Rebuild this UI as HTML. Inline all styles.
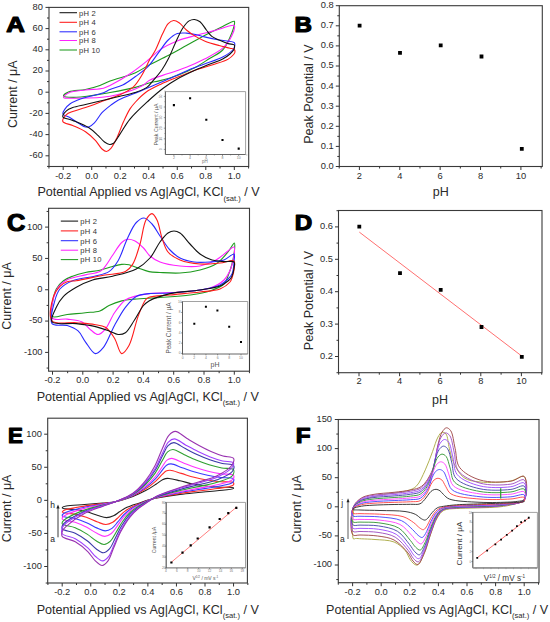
<!DOCTYPE html>
<html><head><meta charset="utf-8"><style>
html,body{margin:0;padding:0;background:#fff;}
svg{display:block;font-family:"Liberation Sans", sans-serif;}
</style></head><body>
<svg width="550" height="622" viewBox="0 0 550 622">
<rect width="550" height="622" fill="#fff"/>
<rect x="49.00" y="7.40" width="199.70" height="159.10" fill="none" stroke="#3a3a3a" stroke-width="1.1"/>
<path d="M63.20,166.50v3.5M91.72,166.50v3.5M120.24,166.50v3.5M148.76,166.50v3.5M177.28,166.50v3.5M205.80,166.50v3.5M234.32,166.50v3.5M48.94,166.50v2.0M77.46,166.50v2.0M105.98,166.50v2.0M134.50,166.50v2.0M163.02,166.50v2.0M191.54,166.50v2.0M220.06,166.50v2.0M248.58,166.50v2.0" stroke="#333" stroke-width="1" fill="none"/>
<text transform="translate(63.20,179.30) scale(1,1)" font-size="9.3" text-anchor="middle" fill="#2a2a2a">-0.2</text>
<text transform="translate(91.72,179.30) scale(1,1)" font-size="9.3" text-anchor="middle" fill="#2a2a2a">0.0</text>
<text transform="translate(120.24,179.30) scale(1,1)" font-size="9.3" text-anchor="middle" fill="#2a2a2a">0.2</text>
<text transform="translate(148.76,179.30) scale(1,1)" font-size="9.3" text-anchor="middle" fill="#2a2a2a">0.4</text>
<text transform="translate(177.28,179.30) scale(1,1)" font-size="9.3" text-anchor="middle" fill="#2a2a2a">0.6</text>
<text transform="translate(205.80,179.30) scale(1,1)" font-size="9.3" text-anchor="middle" fill="#2a2a2a">0.8</text>
<text transform="translate(234.32,179.30) scale(1,1)" font-size="9.3" text-anchor="middle" fill="#2a2a2a">1.0</text>
<path d="M49.00,155.80h-3.5M49.00,134.60h-3.5M49.00,113.40h-3.5M49.00,92.20h-3.5M49.00,71.00h-3.5M49.00,49.80h-3.5M49.00,28.60h-3.5M49.00,7.40h-3.5M49.00,166.40h-2.0M49.00,145.20h-2.0M49.00,124.00h-2.0M49.00,102.80h-2.0M49.00,81.60h-2.0M49.00,60.40h-2.0M49.00,39.20h-2.0M49.00,18.00h-2.0" stroke="#333" stroke-width="1" fill="none"/>
<text transform="translate(42.80,158.20) scale(1,1)" font-size="9.3" text-anchor="end" fill="#2a2a2a">-60</text>
<text transform="translate(42.80,137.00) scale(1,1)" font-size="9.3" text-anchor="end" fill="#2a2a2a">-40</text>
<text transform="translate(42.80,115.80) scale(1,1)" font-size="9.3" text-anchor="end" fill="#2a2a2a">-20</text>
<text transform="translate(42.80,94.60) scale(1,1)" font-size="9.3" text-anchor="end" fill="#2a2a2a">0</text>
<text transform="translate(42.80,73.40) scale(1,1)" font-size="9.3" text-anchor="end" fill="#2a2a2a">20</text>
<text transform="translate(42.80,52.20) scale(1,1)" font-size="9.3" text-anchor="end" fill="#2a2a2a">40</text>
<text transform="translate(42.80,31.00) scale(1,1)" font-size="9.3" text-anchor="end" fill="#2a2a2a">60</text>
<text transform="translate(42.80,9.80) scale(1,1)" font-size="9.3" text-anchor="end" fill="#2a2a2a">80</text>
<rect x="339.30" y="5.70" width="203.00" height="160.80" fill="none" stroke="#3a3a3a" stroke-width="1.1"/>
<path d="M359.40,166.50v3.5M399.78,166.50v3.5M440.16,166.50v3.5M480.54,166.50v3.5M520.92,166.50v3.5M339.21,166.50v2.0M379.59,166.50v2.0M419.97,166.50v2.0M460.35,166.50v2.0M500.73,166.50v2.0M541.11,166.50v2.0" stroke="#333" stroke-width="1" fill="none"/>
<text transform="translate(359.40,179.00) scale(1,1)" font-size="9.3" text-anchor="middle" fill="#2a2a2a">2</text>
<text transform="translate(399.78,179.00) scale(1,1)" font-size="9.3" text-anchor="middle" fill="#2a2a2a">4</text>
<text transform="translate(440.16,179.00) scale(1,1)" font-size="9.3" text-anchor="middle" fill="#2a2a2a">6</text>
<text transform="translate(480.54,179.00) scale(1,1)" font-size="9.3" text-anchor="middle" fill="#2a2a2a">8</text>
<text transform="translate(520.92,179.00) scale(1,1)" font-size="9.3" text-anchor="middle" fill="#2a2a2a">10</text>
<path d="M339.30,166.50h-3.5M339.30,146.40h-3.5M339.30,126.30h-3.5M339.30,106.20h-3.5M339.30,86.10h-3.5M339.30,66.00h-3.5M339.30,45.90h-3.5M339.30,25.80h-3.5M339.30,5.70h-3.5M339.30,156.45h-2.0M339.30,136.35h-2.0M339.30,116.25h-2.0M339.30,96.15h-2.0M339.30,76.05h-2.0M339.30,55.95h-2.0M339.30,35.85h-2.0M339.30,15.75h-2.0" stroke="#333" stroke-width="1" fill="none"/>
<text transform="translate(333.80,168.90) scale(1,1)" font-size="9.3" text-anchor="end" fill="#2a2a2a">0.0</text>
<text transform="translate(333.80,148.80) scale(1,1)" font-size="9.3" text-anchor="end" fill="#2a2a2a">0.1</text>
<text transform="translate(333.80,128.70) scale(1,1)" font-size="9.3" text-anchor="end" fill="#2a2a2a">0.2</text>
<text transform="translate(333.80,108.60) scale(1,1)" font-size="9.3" text-anchor="end" fill="#2a2a2a">0.3</text>
<text transform="translate(333.80,88.50) scale(1,1)" font-size="9.3" text-anchor="end" fill="#2a2a2a">0.4</text>
<text transform="translate(333.80,68.40) scale(1,1)" font-size="9.3" text-anchor="end" fill="#2a2a2a">0.5</text>
<text transform="translate(333.80,48.30) scale(1,1)" font-size="9.3" text-anchor="end" fill="#2a2a2a">0.6</text>
<text transform="translate(333.80,28.20) scale(1,1)" font-size="9.3" text-anchor="end" fill="#2a2a2a">0.7</text>
<text transform="translate(333.80,8.10) scale(1,1)" font-size="9.3" text-anchor="end" fill="#2a2a2a">0.8</text>
<rect x="48.60" y="208.30" width="200.90" height="162.90" fill="none" stroke="#3a3a3a" stroke-width="1.1"/>
<path d="M52.50,371.20v3.5M82.80,371.20v3.5M113.10,371.20v3.5M143.40,371.20v3.5M173.70,371.20v3.5M204.00,371.20v3.5M234.30,371.20v3.5M67.65,371.20v2.0M97.95,371.20v2.0M128.25,371.20v2.0M158.55,371.20v2.0M188.85,371.20v2.0M219.15,371.20v2.0M249.45,371.20v2.0" stroke="#333" stroke-width="1" fill="none"/>
<text transform="translate(52.50,383.30) scale(1,1)" font-size="9.3" text-anchor="middle" fill="#2a2a2a">-0.2</text>
<text transform="translate(82.80,383.30) scale(1,1)" font-size="9.3" text-anchor="middle" fill="#2a2a2a">0.0</text>
<text transform="translate(113.10,383.30) scale(1,1)" font-size="9.3" text-anchor="middle" fill="#2a2a2a">0.2</text>
<text transform="translate(143.40,383.30) scale(1,1)" font-size="9.3" text-anchor="middle" fill="#2a2a2a">0.4</text>
<text transform="translate(173.70,383.30) scale(1,1)" font-size="9.3" text-anchor="middle" fill="#2a2a2a">0.6</text>
<text transform="translate(204.00,383.30) scale(1,1)" font-size="9.3" text-anchor="middle" fill="#2a2a2a">0.8</text>
<text transform="translate(234.30,383.30) scale(1,1)" font-size="9.3" text-anchor="middle" fill="#2a2a2a">1.0</text>
<path d="M48.60,352.40h-3.5M48.60,321.07h-3.5M48.60,289.75h-3.5M48.60,258.43h-3.5M48.60,227.10h-3.5M48.60,368.06h-2.0M48.60,336.74h-2.0M48.60,305.41h-2.0M48.60,274.09h-2.0M48.60,242.76h-2.0M48.60,211.44h-2.0" stroke="#333" stroke-width="1" fill="none"/>
<text transform="translate(42.50,354.80) scale(1,1)" font-size="9.3" text-anchor="end" fill="#2a2a2a">-100</text>
<text transform="translate(42.50,323.47) scale(1,1)" font-size="9.3" text-anchor="end" fill="#2a2a2a">-50</text>
<text transform="translate(42.50,292.15) scale(1,1)" font-size="9.3" text-anchor="end" fill="#2a2a2a">0</text>
<text transform="translate(42.50,260.82) scale(1,1)" font-size="9.3" text-anchor="end" fill="#2a2a2a">50</text>
<text transform="translate(42.50,229.50) scale(1,1)" font-size="9.3" text-anchor="end" fill="#2a2a2a">100</text>
<rect x="338.50" y="210.50" width="203.50" height="162.20" fill="none" stroke="#3a3a3a" stroke-width="1.1"/>
<path d="M359.00,372.70v3.5M399.60,372.70v3.5M440.20,372.70v3.5M480.80,372.70v3.5M521.40,372.70v3.5M338.70,372.70v2.0M379.30,372.70v2.0M419.90,372.70v2.0M460.50,372.70v2.0M501.10,372.70v2.0M541.70,372.70v2.0" stroke="#333" stroke-width="1" fill="none"/>
<text transform="translate(359.00,384.20) scale(1,1)" font-size="9.3" text-anchor="middle" fill="#2a2a2a">2</text>
<text transform="translate(399.60,384.20) scale(1,1)" font-size="9.3" text-anchor="middle" fill="#2a2a2a">4</text>
<text transform="translate(440.20,384.20) scale(1,1)" font-size="9.3" text-anchor="middle" fill="#2a2a2a">6</text>
<text transform="translate(480.80,384.20) scale(1,1)" font-size="9.3" text-anchor="middle" fill="#2a2a2a">8</text>
<text transform="translate(521.40,384.20) scale(1,1)" font-size="9.3" text-anchor="middle" fill="#2a2a2a">10</text>
<path d="M338.50,356.50h-3.5M338.50,324.10h-3.5M338.50,291.70h-3.5M338.50,259.30h-3.5M338.50,226.90h-3.5M338.50,372.70h-2.0M338.50,340.30h-2.0M338.50,307.90h-2.0M338.50,275.50h-2.0M338.50,243.10h-2.0M338.50,210.70h-2.0" stroke="#333" stroke-width="1" fill="none"/>
<text transform="translate(333.00,358.90) scale(1,1)" font-size="9.3" text-anchor="end" fill="#2a2a2a">0.2</text>
<text transform="translate(333.00,326.50) scale(1,1)" font-size="9.3" text-anchor="end" fill="#2a2a2a">0.3</text>
<text transform="translate(333.00,294.10) scale(1,1)" font-size="9.3" text-anchor="end" fill="#2a2a2a">0.4</text>
<text transform="translate(333.00,261.70) scale(1,1)" font-size="9.3" text-anchor="end" fill="#2a2a2a">0.5</text>
<text transform="translate(333.00,229.30) scale(1,1)" font-size="9.3" text-anchor="end" fill="#2a2a2a">0.6</text>
<rect x="47.70" y="418.20" width="199.70" height="164.80" fill="none" stroke="#3a3a3a" stroke-width="1.1"/>
<path d="M62.20,583.00v3.5M90.76,583.00v3.5M119.32,583.00v3.5M147.88,583.00v3.5M176.44,583.00v3.5M205.00,583.00v3.5M233.56,583.00v3.5M47.92,583.00v2.0M76.48,583.00v2.0M105.04,583.00v2.0M133.60,583.00v2.0M162.16,583.00v2.0M190.72,583.00v2.0M219.28,583.00v2.0M247.84,583.00v2.0" stroke="#333" stroke-width="1" fill="none"/>
<text transform="translate(62.20,595.30) scale(1,1)" font-size="9.3" text-anchor="middle" fill="#2a2a2a">-0.2</text>
<text transform="translate(90.76,595.30) scale(1,1)" font-size="9.3" text-anchor="middle" fill="#2a2a2a">0.0</text>
<text transform="translate(119.32,595.30) scale(1,1)" font-size="9.3" text-anchor="middle" fill="#2a2a2a">0.2</text>
<text transform="translate(147.88,595.30) scale(1,1)" font-size="9.3" text-anchor="middle" fill="#2a2a2a">0.4</text>
<text transform="translate(176.44,595.30) scale(1,1)" font-size="9.3" text-anchor="middle" fill="#2a2a2a">0.6</text>
<text transform="translate(205.00,595.30) scale(1,1)" font-size="9.3" text-anchor="middle" fill="#2a2a2a">0.8</text>
<text transform="translate(233.56,595.30) scale(1,1)" font-size="9.3" text-anchor="middle" fill="#2a2a2a">1.0</text>
<path d="M47.70,566.50h-3.5M47.70,533.43h-3.5M47.70,500.35h-3.5M47.70,467.28h-3.5M47.70,434.20h-3.5M47.70,583.04h-2.0M47.70,549.96h-2.0M47.70,516.89h-2.0M47.70,483.81h-2.0M47.70,450.74h-2.0" stroke="#333" stroke-width="1" fill="none"/>
<text transform="translate(41.80,568.90) scale(1,1)" font-size="9.3" text-anchor="end" fill="#2a2a2a">-100</text>
<text transform="translate(41.80,535.83) scale(1,1)" font-size="9.3" text-anchor="end" fill="#2a2a2a">-50</text>
<text transform="translate(41.80,502.75) scale(1,1)" font-size="9.3" text-anchor="end" fill="#2a2a2a">0</text>
<text transform="translate(41.80,469.68) scale(1,1)" font-size="9.3" text-anchor="end" fill="#2a2a2a">50</text>
<text transform="translate(41.80,436.60) scale(1,1)" font-size="9.3" text-anchor="end" fill="#2a2a2a">100</text>
<rect x="338.30" y="419.50" width="200.70" height="163.20" fill="none" stroke="#3a3a3a" stroke-width="1.1"/>
<path d="M352.60,582.70v3.5M381.20,582.70v3.5M409.80,582.70v3.5M438.40,582.70v3.5M467.00,582.70v3.5M495.60,582.70v3.5M524.20,582.70v3.5M338.30,582.70v2.0M366.90,582.70v2.0M395.50,582.70v2.0M424.10,582.70v2.0M452.70,582.70v2.0M481.30,582.70v2.0M509.90,582.70v2.0M538.50,582.70v2.0" stroke="#333" stroke-width="1" fill="none"/>
<text transform="translate(352.60,595.30) scale(1,1)" font-size="9.3" text-anchor="middle" fill="#2a2a2a">-0.2</text>
<text transform="translate(381.20,595.30) scale(1,1)" font-size="9.3" text-anchor="middle" fill="#2a2a2a">0.0</text>
<text transform="translate(409.80,595.30) scale(1,1)" font-size="9.3" text-anchor="middle" fill="#2a2a2a">0.2</text>
<text transform="translate(438.40,595.30) scale(1,1)" font-size="9.3" text-anchor="middle" fill="#2a2a2a">0.4</text>
<text transform="translate(467.00,595.30) scale(1,1)" font-size="9.3" text-anchor="middle" fill="#2a2a2a">0.6</text>
<text transform="translate(495.60,595.30) scale(1,1)" font-size="9.3" text-anchor="middle" fill="#2a2a2a">0.8</text>
<text transform="translate(524.20,595.30) scale(1,1)" font-size="9.3" text-anchor="middle" fill="#2a2a2a">1.0</text>
<path d="M338.30,565.00h-3.5M338.30,535.90h-3.5M338.30,506.80h-3.5M338.30,477.70h-3.5M338.30,448.60h-3.5M338.30,419.50h-3.5M338.30,579.55h-2.0M338.30,550.45h-2.0M338.30,521.35h-2.0M338.30,492.25h-2.0M338.30,463.15h-2.0M338.30,434.05h-2.0" stroke="#333" stroke-width="1" fill="none"/>
<text transform="translate(332.00,567.40) scale(1,1)" font-size="9.3" text-anchor="end" fill="#2a2a2a">-100</text>
<text transform="translate(332.00,538.30) scale(1,1)" font-size="9.3" text-anchor="end" fill="#2a2a2a">-50</text>
<text transform="translate(332.00,509.20) scale(1,1)" font-size="9.3" text-anchor="end" fill="#2a2a2a">0</text>
<text transform="translate(332.00,480.10) scale(1,1)" font-size="9.3" text-anchor="end" fill="#2a2a2a">50</text>
<text transform="translate(332.00,451.00) scale(1,1)" font-size="9.3" text-anchor="end" fill="#2a2a2a">100</text>
<text transform="translate(332.00,421.90) scale(1,1)" font-size="9.3" text-anchor="end" fill="#2a2a2a">150</text>
<text transform="translate(6.3,31.8) scale(1.2,1)" x="0" y="0" font-size="21.4" font-weight="bold" fill="#000" stroke="#000" stroke-width="1.2" stroke-linejoin="round">A</text>
<text transform="translate(294.5,31.9) scale(1.13,1)" x="0" y="0" font-size="21.4" font-weight="bold" fill="#000" stroke="#000" stroke-width="1.2" stroke-linejoin="round">B</text>
<text transform="translate(7.0,230.9) scale(1.08,1)" x="0" y="0" font-size="23.5" font-weight="bold" fill="#000" stroke="#000" stroke-width="1.2" stroke-linejoin="round">C</text>
<text transform="translate(294.8,230.4) scale(1.13,1)" x="0" y="0" font-size="21.4" font-weight="bold" fill="#000" stroke="#000" stroke-width="1.2" stroke-linejoin="round">D</text>
<text transform="translate(8.0,442.9) scale(1.04,1)" x="0" y="0" font-size="21.4" font-weight="bold" fill="#000" stroke="#000" stroke-width="1.2" stroke-linejoin="round">E</text>
<text transform="translate(295.8,442.9) scale(1.13,1)" x="0" y="0" font-size="21.4" font-weight="bold" fill="#000" stroke="#000" stroke-width="1.2" stroke-linejoin="round">F</text>
<text transform="translate(16.6,94.2) rotate(-90)" x="0" y="0" font-size="12.5" text-anchor="middle" fill="#2a2a2a">Current / μA</text>
<text transform="translate(313.0,94.1) rotate(-90)" x="0" y="0" font-size="12.5" text-anchor="middle" fill="#2a2a2a">Peak Potential / V</text>
<text transform="translate(11.0,296.0) rotate(-90)" x="0" y="0" font-size="12.5" text-anchor="middle" fill="#2a2a2a">Current / μA</text>
<text transform="translate(313.0,300.5) rotate(-90)" x="0" y="0" font-size="12.5" text-anchor="middle" fill="#2a2a2a">Peak Potential / V</text>
<text transform="translate(11.2,508.4) rotate(-90)" x="0" y="0" font-size="12.5" text-anchor="middle" fill="#2a2a2a">Current / μA</text>
<text transform="translate(301.0,508.8) rotate(-90)" x="0" y="0" font-size="12.5" text-anchor="middle" fill="#2a2a2a">Current / μA</text>
<text x="37.4" y="196.4" font-size="12.6" fill="#2a2a2a">Potential Applied vs Ag|AgCl, KCl<tspan font-size="7.6" dy="4.3">(sat.)</tspan><tspan dy="-4.3"> / V</tspan></text>
<text x="440.7" y="196.0" font-size="12.5" text-anchor="middle" fill="#2a2a2a">pH</text>
<text x="36.7" y="400.6" font-size="12.6" fill="#2a2a2a">Potential Applied vs Ag|AgCl, KCl<tspan font-size="7.6" dy="4.3">(sat.)</tspan><tspan dy="-4.3"> / V</tspan></text>
<text x="440.0" y="404.2" font-size="12.5" text-anchor="middle" fill="#2a2a2a">pH</text>
<text x="36.7" y="613.8" font-size="12.6" fill="#2a2a2a">Potential Applied vs Ag|AgCl, KCl<tspan font-size="7.6" dy="4.3">(sat.)</tspan><tspan dy="-4.3"> / V</tspan></text>
<text x="326.0" y="613.8" font-size="12.6" fill="#2a2a2a">Potential Applied vs Ag|AgCl, KCl<tspan font-size="7.6" dy="4.3">(sat.)</tspan><tspan dy="-4.3"> / V</tspan></text>
<path d="M63.50,96.00C63.23,95.06 66.50,92.84 69.00,91.80C72.87,90.18 80.14,90.59 85.40,89.50C90.42,88.46 95.55,87.06 99.90,85.50C103.63,84.16 105.82,82.61 110.00,81.00C116.52,78.50 128.32,75.86 135.50,72.70C141.16,70.21 144.85,67.23 150.00,64.50C155.68,61.49 162.17,58.65 168.20,55.50C174.30,52.32 180.34,48.84 186.40,45.50C192.44,42.17 198.43,38.70 204.50,35.50C210.53,32.33 217.29,28.94 222.70,26.40C226.97,24.39 233.03,20.55 234.30,21.30C234.84,21.62 234.62,22.53 234.50,23.60C234.19,26.27 231.96,32.92 230.00,37.30C228.03,41.72 225.99,46.53 222.70,50.00C219.35,53.52 214.38,55.41 210.00,58.20C205.34,61.17 200.71,64.51 195.50,67.30C189.87,70.31 183.44,73.22 177.30,75.50C171.31,77.73 164.15,79.65 159.10,80.90C155.57,81.77 153.36,81.83 150.00,82.70C145.70,83.82 141.06,85.95 135.50,87.40C128.24,89.30 119.11,90.94 110.00,92.50C99.57,94.28 84.87,97.13 76.30,97.30C71.03,97.41 63.86,97.28 63.50,96.00Z" fill="none" stroke="#1e9a1e" stroke-width="1.1" stroke-linejoin="round"/>
<path d="M63.50,97.50C63.16,96.51 66.45,93.90 69.00,92.70C72.84,90.89 79.79,90.74 85.40,90.00C91.27,89.23 99.04,89.32 103.50,88.20C106.28,87.50 107.26,86.87 110.00,85.50C115.17,82.91 124.99,77.16 131.60,72.70C137.63,68.63 143.09,64.14 148.20,60.00C152.77,56.29 156.18,52.23 160.90,49.10C165.84,45.82 171.59,43.16 177.30,40.90C183.11,38.61 189.43,37.17 195.50,35.50C201.53,33.84 207.37,32.51 213.60,30.90C220.27,29.18 232.35,24.11 234.30,25.50C234.99,26.00 234.69,27.03 234.50,28.20C234.11,30.65 231.97,35.76 230.00,39.10C228.04,42.42 226.01,45.31 222.70,48.20C218.23,52.10 210.65,55.88 204.50,59.10C198.55,62.22 192.50,64.87 186.40,67.30C180.40,69.69 174.26,71.48 168.20,73.60C162.13,75.72 154.73,77.48 150.00,80.00C146.56,81.83 145.65,84.12 141.80,86.10C134.84,89.68 120.89,94.28 110.00,96.30C99.06,98.33 84.87,98.19 76.30,98.20C71.02,98.20 63.95,98.81 63.50,97.50Z" fill="none" stroke="#ff22ff" stroke-width="1.1" stroke-linejoin="round"/>
<path d="M62.80,113.80C62.34,112.42 64.01,110.46 65.10,108.90C66.36,107.10 68.20,105.24 70.20,103.80C72.38,102.23 75.23,101.06 77.80,100.00C80.30,98.97 82.31,98.42 85.40,97.50C90.13,96.10 99.04,94.37 103.50,92.70C106.27,91.66 107.44,90.58 110.00,89.50C113.50,88.03 118.58,87.06 122.70,85.00C127.10,82.80 131.31,79.55 135.50,76.50C139.81,73.36 144.36,70.36 148.20,66.40C152.27,62.20 155.61,56.40 159.10,51.80C162.25,47.64 164.91,43.15 168.20,40.00C171.04,37.28 174.10,34.71 177.30,33.60C180.20,32.60 183.37,32.95 186.40,33.10C189.44,33.25 192.49,33.87 195.50,34.50C198.53,35.13 201.13,36.09 204.50,36.90C208.77,37.92 214.18,39.04 219.10,40.00C224.11,40.98 232.51,40.91 234.30,42.70C235.07,43.47 234.93,44.48 234.80,45.50C234.62,46.85 233.96,48.50 232.70,50.00C230.73,52.34 226.68,54.88 222.70,57.00C217.67,59.68 210.56,61.68 204.50,64.00C198.46,66.31 192.40,68.41 186.40,70.90C180.30,73.43 172.91,77.01 168.20,79.10C165.22,80.42 163.91,80.99 160.90,82.30C156.04,84.41 148.50,87.70 141.80,90.50C134.43,93.58 124.04,97.05 118.50,100.00C115.16,101.78 113.48,103.15 110.90,105.10C107.99,107.31 104.70,109.81 102.00,112.70C99.18,115.71 96.86,120.44 94.40,122.90C92.66,124.64 90.96,126.07 89.30,126.70C88.01,127.18 86.88,127.30 85.50,127.00C83.59,126.59 81.38,124.85 79.10,123.50C76.35,121.87 73.06,119.49 70.20,117.80C67.65,116.30 63.37,115.52 62.80,113.80Z" fill="none" stroke="#2a2aff" stroke-width="1.1" stroke-linejoin="round"/>
<path d="M62.80,121.50C62.15,119.74 64.68,116.28 66.40,114.60C68.03,113.01 70.18,112.49 72.70,111.50C76.17,110.13 80.77,109.20 85.50,107.60C91.52,105.56 99.87,102.19 105.80,100.00C110.41,98.29 113.88,97.41 118.10,95.50C122.88,93.33 128.89,90.91 132.90,87.40C136.69,84.09 139.06,79.75 141.80,75.30C144.81,70.41 147.46,63.69 150.00,59.10C151.95,55.59 153.66,53.55 155.50,50.00C157.89,45.40 160.36,38.35 162.70,33.60C164.57,29.81 166.02,25.82 168.20,23.60C169.81,21.96 171.76,20.63 173.60,20.50C175.39,20.37 177.26,21.49 179.10,22.70C181.53,24.30 183.73,27.75 186.40,30.00C189.17,32.33 192.40,34.55 195.50,36.40C198.44,38.16 201.08,39.51 204.50,40.90C208.72,42.61 214.57,44.23 219.10,45.50C222.98,46.59 227.20,47.43 230.00,48.20C231.77,48.69 233.51,48.69 234.30,49.50C234.90,50.12 235.10,51.19 235.00,52.00C234.90,52.85 234.33,53.61 233.60,54.50C232.45,55.90 230.60,57.69 228.20,59.10C224.65,61.18 218.76,62.77 213.60,64.50C207.92,66.41 201.50,67.89 195.50,70.00C189.39,72.15 183.20,74.88 177.30,77.30C171.68,79.61 166.21,81.65 160.90,84.20C155.65,86.72 150.00,89.32 145.60,92.50C141.67,95.34 138.27,98.99 135.50,102.00C133.29,104.40 131.77,106.14 130.00,108.90C127.76,112.40 125.64,117.13 123.60,121.60C121.40,126.42 119.55,132.22 117.30,136.90C115.29,141.07 113.13,145.92 110.90,148.40C109.47,149.99 108.00,151.42 106.50,151.50C105.03,151.58 103.50,150.29 102.00,149.00C99.86,147.16 98.13,143.40 95.60,140.70C92.74,137.64 89.25,134.31 85.50,131.80C81.64,129.22 76.72,127.30 72.70,125.50C69.22,123.94 63.56,123.57 62.80,121.50Z" fill="none" stroke="#ff1a1a" stroke-width="1.1" stroke-linejoin="round"/>
<path d="M62.80,116.80C62.25,115.26 64.76,112.33 66.40,110.80C68.05,109.26 70.17,108.54 72.70,107.60C76.16,106.32 80.81,105.62 85.50,104.50C91.21,103.13 98.49,101.43 104.50,100.00C109.93,98.71 114.88,97.56 120.00,96.30C125.05,95.06 130.35,94.08 135.00,92.50C139.26,91.06 143.73,89.65 146.90,87.40C149.62,85.47 151.05,83.00 153.30,80.40C155.97,77.31 159.29,73.61 161.80,70.00C164.24,66.50 166.11,63.17 168.20,59.10C170.69,54.25 173.02,47.97 175.50,42.70C177.86,37.69 180.10,32.08 182.70,28.20C184.71,25.20 186.83,22.30 189.10,20.90C190.82,19.84 192.71,19.37 194.50,19.50C196.35,19.63 198.26,20.47 200.00,21.80C202.30,23.55 204.33,27.45 206.40,30.00C208.25,32.28 209.66,34.73 211.80,36.40C213.91,38.05 216.51,38.85 219.10,40.00C221.94,41.26 225.44,42.74 228.20,43.60C230.41,44.29 233.45,44.01 234.30,45.00C234.84,45.62 234.61,46.68 234.50,47.50C234.39,48.35 234.12,49.12 233.60,50.00C232.85,51.25 231.51,52.68 230.00,54.00C228.07,55.69 225.57,57.48 222.70,59.00C219.14,60.89 214.37,62.24 210.00,64.00C205.32,65.89 200.57,67.70 195.50,70.00C189.74,72.61 182.86,75.83 177.30,79.00C172.29,81.86 168.11,84.56 163.50,88.00C158.41,91.80 153.42,96.20 148.20,101.00C142.29,106.43 134.96,113.07 130.00,119.10C125.80,124.20 122.82,130.00 119.80,134.40C117.47,137.78 115.62,141.77 113.50,143.30C112.21,144.24 110.96,144.61 109.60,144.50C107.99,144.37 106.19,143.22 104.50,142.00C102.38,140.47 100.53,137.77 98.20,135.60C95.54,133.12 92.92,130.31 89.30,128.00C84.78,125.12 77.56,122.39 72.70,120.40C69.01,118.89 63.47,118.69 62.80,116.80Z" fill="none" stroke="#111" stroke-width="1.1" stroke-linejoin="round"/>
<path d="M59.5,12.7H77" stroke="#111" stroke-width="1.05"/>
<text x="79" y="15.5" font-size="7.6" fill="#333" letter-spacing="0.2">pH 2</text>
<path d="M59.5,22.3H77" stroke="#ff1a1a" stroke-width="1.05"/>
<text x="79" y="25.1" font-size="7.6" fill="#333" letter-spacing="0.2">pH 4</text>
<path d="M59.5,31.8H77" stroke="#2a2aff" stroke-width="1.05"/>
<text x="79" y="34.6" font-size="7.6" fill="#333" letter-spacing="0.2">pH 6</text>
<path d="M59.5,40.5H77" stroke="#ff22ff" stroke-width="1.05"/>
<text x="79" y="43.3" font-size="7.6" fill="#333" letter-spacing="0.2">pH 8</text>
<path d="M59.5,50.0H77" stroke="#1e9a1e" stroke-width="1.05"/>
<text x="79" y="52.8" font-size="7.6" fill="#333" letter-spacing="0.2">pH 10</text>
<path d="M165.4,154.5V91.6H245.6V154.5" fill="none" stroke="#8a8a8a" stroke-width="0.8"/>
<path d="M165.4,91.6V154.5H245.6" fill="none" stroke="#555" stroke-width="0.9"/>
<text transform="translate(162.20,149.40) rotate(-90)" font-size="3.5" text-anchor="middle" fill="#777">0</text>
<text transform="translate(162.20,138.80) rotate(-90)" font-size="3.5" text-anchor="middle" fill="#777">10</text>
<text transform="translate(162.20,128.20) rotate(-90)" font-size="3.5" text-anchor="middle" fill="#777">20</text>
<text transform="translate(162.20,117.60) rotate(-90)" font-size="3.5" text-anchor="middle" fill="#777">30</text>
<text transform="translate(162.20,107.00) rotate(-90)" font-size="3.5" text-anchor="middle" fill="#777">40</text>
<text transform="translate(162.20,96.40) rotate(-90)" font-size="3.5" text-anchor="middle" fill="#777">50</text>
<text x="173.90" y="159.10" font-size="3.5" text-anchor="middle" fill="#777">2</text>
<text x="190.10" y="159.10" font-size="3.5" text-anchor="middle" fill="#777">4</text>
<text x="206.30" y="159.10" font-size="3.5" text-anchor="middle" fill="#777">6</text>
<text x="222.50" y="159.10" font-size="3.5" text-anchor="middle" fill="#777">8</text>
<text x="238.70" y="159.10" font-size="3.5" text-anchor="middle" fill="#777">10</text>
<path d="M165.4,149.40h-1.6M165.4,138.80h-1.6M165.4,128.20h-1.6M165.4,117.60h-1.6M165.4,107.00h-1.6M165.4,96.40h-1.6M165.4,144.10h-0.9M165.4,133.50h-0.9M165.4,122.90h-0.9M165.4,112.30h-0.9M165.4,101.70h-0.9M165.4,91.10h-0.9M173.90,154.5v1.6M190.10,154.5v1.6M206.30,154.5v1.6M222.50,154.5v1.6M238.70,154.5v1.6M182.00,154.5v0.9M198.20,154.5v0.9M214.40,154.5v0.9M230.60,154.5v0.9M246.80,154.5v0.9" stroke="#555" stroke-width="0.6"/>
<text x="204.80" y="162.50" font-size="4.5" text-anchor="middle" fill="#777">pH</text>
<text transform="translate(157.60,124.50) rotate(-90)" font-size="5.3" text-anchor="middle" fill="#555">Peak Current / μA</text>
<path d="M172.85,104.05h2.1v2.1h-2.1zM189.05,97.15h2.1v2.1h-2.1zM205.25,118.75h2.1v2.1h-2.1zM221.45,138.95h2.1v2.1h-2.1zM237.65,147.55h2.1v2.1h-2.1z" fill="#000"/>
<path d="M357.70,23.70h3.8v3.8h-3.8zM398.10,51.00h3.8v3.8h-3.8zM438.80,43.40h3.8v3.8h-3.8zM479.60,54.60h3.8v3.8h-3.8zM519.90,147.00h3.8v3.8h-3.8z" fill="#000"/>
<path d="M359.3,232.1L521.8,356.1" stroke="#ff7070" stroke-width="1"/>
<path d="M357.40,224.70h3.8v3.8h-3.8zM398.10,271.30h3.8v3.8h-3.8zM438.80,288.00h3.8v3.8h-3.8zM479.60,325.10h3.8v3.8h-3.8zM519.90,354.90h3.8v3.8h-3.8z" fill="#000"/>
<path d="M52.00,316.40C49.66,314.24 51.84,306.46 52.60,301.80C53.32,297.35 54.33,292.63 56.30,289.00C58.09,285.71 60.71,282.85 63.50,280.70C66.18,278.63 69.24,277.50 72.60,276.20C76.44,274.71 80.97,273.49 85.40,272.50C90.05,271.46 95.26,271.24 99.90,270.20C104.31,269.21 108.71,267.52 112.60,266.50C115.87,265.65 118.82,264.67 121.70,264.40C124.25,264.16 126.47,264.20 129.00,264.70C131.91,265.27 134.92,266.90 138.10,268.00C141.56,269.20 145.31,270.85 149.00,271.60C152.62,272.33 155.79,272.28 160.00,272.50C165.67,272.80 173.35,273.41 180.00,273.00C186.68,272.59 193.78,271.61 200.00,270.00C205.71,268.52 211.33,267.01 216.00,264.00C220.66,261.00 224.75,255.84 228.00,252.00C230.62,248.90 233.44,242.71 234.40,243.00C235.11,243.21 234.77,246.56 234.60,249.00C234.33,252.89 233.18,259.32 232.00,264.00C230.93,268.27 229.47,272.45 228.00,276.00C226.76,278.99 226.28,281.72 224.00,284.00C220.99,287.01 215.21,289.21 210.00,291.00C204.05,293.04 197.37,293.96 190.00,295.00C181.04,296.26 169.60,296.80 160.00,297.50C151.16,298.15 141.54,298.39 134.50,299.10C129.49,299.61 125.90,299.85 121.70,300.90C117.40,301.97 112.81,303.70 109.00,305.50C105.63,307.09 103.43,309.69 99.90,310.90C95.75,312.32 90.51,312.13 85.40,312.70C79.68,313.34 72.99,313.85 67.20,314.50C61.90,315.09 54.40,318.61 52.00,316.40Z" fill="none" stroke="#1e9a1e" stroke-width="1.1" stroke-linejoin="round"/>
<path d="M52.00,318.20C49.13,314.91 52.15,303.77 53.50,298.20C54.53,293.92 55.81,290.37 58.10,287.30C60.38,284.24 63.39,281.77 67.20,279.80C72.02,277.31 79.66,276.32 85.40,274.90C90.49,273.63 96.40,273.51 99.90,271.60C102.42,270.22 103.56,268.43 105.40,266.20C107.79,263.30 110.03,259.06 112.60,255.30C115.42,251.18 118.76,245.18 121.70,242.50C123.57,240.79 125.17,239.65 127.20,239.30C129.40,238.93 132.08,239.57 134.50,240.70C137.52,242.11 140.86,245.36 143.50,248.00C145.99,250.49 147.36,253.71 150.00,256.00C152.80,258.43 155.93,260.43 160.00,262.00C165.38,264.08 173.30,265.34 180.00,266.00C186.63,266.66 193.80,267.12 200.00,266.00C205.73,264.96 211.22,262.62 216.00,260.00C220.48,257.54 224.66,253.36 228.00,251.00C230.32,249.36 232.97,246.47 234.00,247.00C235.01,247.52 234.47,251.29 234.20,254.00C233.82,257.89 232.72,263.64 231.00,268.00C229.30,272.29 227.30,276.73 224.00,280.00C220.45,283.52 215.78,286.05 210.00,288.00C202.08,290.67 190.10,291.07 180.00,292.00C169.77,292.94 157.37,292.58 149.00,293.60C143.23,294.30 138.72,295.17 134.50,296.40C131.06,297.40 128.32,297.92 125.40,300.00C121.58,302.72 117.76,308.01 114.50,312.70C111.05,317.66 108.71,325.33 105.40,329.10C103.10,331.72 100.57,334.40 98.10,334.50C95.70,334.60 93.28,331.86 90.80,330.00C87.83,327.78 85.39,323.62 81.70,321.80C77.65,319.80 72.11,319.70 67.20,319.10C62.21,318.49 54.50,321.06 52.00,318.20Z" fill="none" stroke="#ff22ff" stroke-width="1.1" stroke-linejoin="round"/>
<path d="M52.00,323.60C49.08,319.88 52.87,308.01 54.50,301.80C55.80,296.86 57.00,292.47 59.90,289.00C62.93,285.37 67.56,282.78 72.60,280.70C78.72,278.18 87.99,277.90 94.50,276.20C99.87,274.80 105.03,274.27 109.00,271.60C112.84,269.02 115.36,265.21 118.10,260.70C121.63,254.89 123.97,245.57 127.20,238.90C130.08,232.96 132.86,226.02 136.30,222.50C138.67,220.07 141.46,217.85 144.00,218.00C146.69,218.15 149.54,221.40 152.00,224.00C154.96,227.13 157.15,231.87 160.00,236.00C163.11,240.51 166.38,246.18 170.00,250.00C173.12,253.30 176.16,256.02 180.00,258.00C184.09,260.11 189.13,261.32 194.00,262.00C199.11,262.72 204.86,262.37 210.00,262.00C214.84,261.66 219.86,261.47 224.00,260.00C227.76,258.66 232.55,253.21 234.00,254.00C235.04,254.57 234.35,257.59 234.20,260.00C233.97,263.70 233.48,270.64 232.00,274.00C231.00,276.26 229.69,277.36 228.00,279.00C225.89,281.05 223.48,283.34 220.00,285.00C215.01,287.38 207.39,288.71 200.00,290.00C191.06,291.56 179.12,292.41 170.00,293.00C162.39,293.49 155.09,292.85 149.00,293.60C144.21,294.19 140.10,294.32 136.30,296.40C132.16,298.67 128.79,302.96 125.40,307.30C121.43,312.39 118.03,319.09 114.50,325.50C110.71,332.37 107.47,342.48 103.50,347.30C100.93,350.43 98.11,353.88 95.40,353.60C92.08,353.26 88.37,345.74 85.40,341.80C82.66,338.17 81.22,333.63 78.10,330.90C75.10,328.27 71.25,326.72 67.20,325.50C62.66,324.13 54.44,326.71 52.00,323.60Z" fill="none" stroke="#2a2aff" stroke-width="1.1" stroke-linejoin="round"/>
<path d="M52.00,320.90C48.18,316.52 51.49,302.58 53.50,296.40C54.90,292.10 57.38,288.90 59.90,286.40C62.05,284.26 64.52,282.75 67.20,281.80C69.97,280.82 72.47,281.31 76.30,280.70C82.96,279.64 94.91,276.88 103.50,275.30C111.18,273.89 120.34,274.21 125.40,271.60C128.83,269.83 130.49,267.70 132.60,264.40C135.65,259.62 137.74,251.46 139.90,244.40C142.25,236.73 143.12,225.29 146.00,220.00C147.70,216.88 150.14,213.52 152.00,213.60C153.79,213.68 155.56,217.14 157.00,220.00C159.19,224.33 160.05,232.44 162.00,238.00C163.77,243.02 164.93,248.31 168.00,252.00C170.99,255.59 175.27,258.04 180.00,260.00C185.63,262.33 193.30,263.51 200.00,264.00C206.64,264.49 213.94,263.58 220.00,263.00C225.09,262.51 231.99,259.33 234.00,261.00C235.42,262.18 234.53,265.48 234.30,268.00C234.02,271.05 232.91,275.46 232.00,278.00C231.40,279.68 231.18,280.64 230.00,282.00C228.06,284.25 224.14,287.35 220.00,289.00C214.67,291.13 207.35,291.08 200.00,292.00C191.02,293.12 179.11,294.05 170.00,295.00C162.38,295.80 152.99,295.72 149.00,297.30C147.16,298.03 146.61,298.49 145.40,300.00C142.99,303.02 140.49,310.08 138.10,316.40C134.99,324.64 132.68,339.04 129.00,345.50C126.80,349.36 123.91,353.93 121.70,353.60C118.95,353.19 117.38,342.73 114.50,338.20C111.87,334.06 108.99,329.57 105.40,327.30C102.21,325.28 98.63,325.23 94.50,324.50C89.24,323.57 82.81,323.26 76.30,322.70C68.79,322.05 55.81,325.26 52.00,320.90Z" fill="none" stroke="#ff1a1a" stroke-width="1.1" stroke-linejoin="round"/>
<path d="M52.00,321.80C49.99,318.89 54.27,311.65 56.30,307.30C58.19,303.25 60.39,299.62 63.50,296.40C66.91,292.87 71.63,289.97 76.30,287.30C81.28,284.45 86.77,281.83 92.60,280.00C98.82,278.05 105.70,277.91 112.60,276.20C120.22,274.31 129.74,272.36 136.30,268.90C141.81,265.99 146.10,262.37 150.00,258.00C154.05,253.46 156.66,246.46 160.00,242.00C162.67,238.44 165.28,234.79 168.00,233.00C169.97,231.70 172.00,231.00 174.00,231.00C176.00,231.00 177.93,231.65 180.00,233.00C183.17,235.07 186.62,240.46 190.00,244.00C193.29,247.45 196.27,251.32 200.00,254.00C203.63,256.62 207.89,258.74 212.00,260.00C215.90,261.20 220.17,261.27 224.00,261.60C227.48,261.90 232.56,260.56 234.00,262.00C235.02,263.02 234.44,265.03 234.20,267.00C233.84,269.98 232.43,275.59 231.00,278.00C230.13,279.47 229.32,279.95 228.00,281.00C226.04,282.56 223.42,284.64 220.00,286.00C214.97,288.00 207.37,288.82 200.00,290.00C191.04,291.43 179.01,291.52 170.00,293.60C162.27,295.39 153.59,298.30 149.00,300.90C146.39,302.38 145.38,303.34 143.50,305.50C140.60,308.84 137.59,315.38 134.50,320.00C131.55,324.42 128.71,330.46 125.40,332.70C123.10,334.26 120.64,334.67 118.10,334.50C115.20,334.30 112.41,332.10 109.00,330.90C104.75,329.40 99.65,327.59 94.50,326.40C88.82,325.09 82.82,324.34 76.30,323.60C68.80,322.75 54.55,325.50 52.00,321.80Z" fill="none" stroke="#111" stroke-width="1.1" stroke-linejoin="round"/>
<path d="M60.8,221.1H78.1" stroke="#111" stroke-width="1.05"/>
<text x="80.3" y="223.9" font-size="7.6" fill="#333" letter-spacing="0.2">pH 2</text>
<path d="M60.8,230.9H78.1" stroke="#ff1a1a" stroke-width="1.05"/>
<text x="80.3" y="233.70000000000002" font-size="7.6" fill="#333" letter-spacing="0.2">pH 4</text>
<path d="M60.8,240.7H78.1" stroke="#2a2aff" stroke-width="1.05"/>
<text x="80.3" y="243.5" font-size="7.6" fill="#333" letter-spacing="0.2">pH 6</text>
<path d="M60.8,250.2H78.1" stroke="#ff22ff" stroke-width="1.05"/>
<text x="80.3" y="253.0" font-size="7.6" fill="#333" letter-spacing="0.2">pH 8</text>
<path d="M60.8,259.6H78.1" stroke="#1e9a1e" stroke-width="1.05"/>
<text x="80.3" y="262.40000000000003" font-size="7.6" fill="#333" letter-spacing="0.2">pH 10</text>
<rect x="182.5" y="301.5" width="65.19999999999999" height="52.5" fill="#fff"/>
<path d="M182.5,354.0V301.5H247.7V354.0" fill="none" stroke="#8a8a8a" stroke-width="0.8"/>
<path d="M182.5,301.5V354.0H247.7" fill="none" stroke="#555" stroke-width="0.9"/>
<text x="179.70" y="354.40" font-size="3.2" text-anchor="middle" fill="#777">0</text>
<text x="179.70" y="344.16" font-size="3.2" text-anchor="middle" fill="#777">2</text>
<text x="179.70" y="333.92" font-size="3.2" text-anchor="middle" fill="#777">4</text>
<text x="179.70" y="323.68" font-size="3.2" text-anchor="middle" fill="#777">6</text>
<text x="179.70" y="313.44" font-size="3.2" text-anchor="middle" fill="#777">8</text>
<text x="179.70" y="303.20" font-size="3.2" text-anchor="middle" fill="#777">10</text>
<text x="182.60" y="358.60" font-size="3.4" text-anchor="middle" fill="#777">0</text>
<text x="194.28" y="358.60" font-size="3.4" text-anchor="middle" fill="#777">2</text>
<text x="205.96" y="358.60" font-size="3.4" text-anchor="middle" fill="#777">4</text>
<text x="217.64" y="358.60" font-size="3.4" text-anchor="middle" fill="#777">6</text>
<text x="229.32" y="358.60" font-size="3.4" text-anchor="middle" fill="#777">8</text>
<text x="241.00" y="358.60" font-size="3.4" text-anchor="middle" fill="#777">10</text>
<path d="M182.5,353.40h-1.4M182.5,343.16h-1.4M182.5,332.92h-1.4M182.5,322.68h-1.4M182.5,312.44h-1.4M182.5,302.20h-1.4M182.60,354.0v1.4M194.28,354.0v1.4M205.96,354.0v1.4M217.64,354.0v1.4M229.32,354.0v1.4M241.00,354.0v1.4" stroke="#555" stroke-width="0.6"/>
<text x="215.00" y="366.50" font-size="7" text-anchor="middle" fill="#555">pH</text>
<text transform="translate(171.00,328.00) rotate(-90)" font-size="6.4" text-anchor="middle" fill="#555">Peak Current / μA</text>
<path d="M193.30,322.80h2.0v2.0h-2.0zM204.90,305.80h2.0v2.0h-2.0zM216.40,309.40h2.0v2.0h-2.0zM228.20,325.80h2.0v2.0h-2.0zM240.00,341.10h2.0v2.0h-2.0z" fill="#000"/>
<path d="M62.50,507.30C62.90,506.74 64.47,506.37 66.20,506.00C69.94,505.20 78.34,505.00 84.40,504.50C90.44,504.00 96.99,503.49 102.50,503.00C107.14,502.59 110.74,502.70 115.30,501.80C120.75,500.72 127.56,498.42 132.90,496.40C137.57,494.63 141.73,492.72 145.70,490.60C149.39,488.63 152.98,486.18 156.00,484.20C158.44,482.60 160.70,480.64 162.50,479.70C163.65,479.11 164.44,478.80 165.50,478.60C166.63,478.38 167.59,478.36 169.10,478.50C171.76,478.74 176.21,479.93 180.00,480.80C184.15,481.75 188.65,483.13 193.00,484.00C197.31,484.86 201.58,485.47 206.00,486.00C210.57,486.55 215.39,486.92 220.00,487.20C224.49,487.48 232.32,486.80 233.30,487.70C233.54,487.92 233.59,488.25 233.40,488.50C232.54,489.62 222.76,490.05 217.10,490.70C210.99,491.40 204.27,491.87 198.00,492.50C191.91,493.11 186.36,493.57 180.00,494.40C172.79,495.34 162.89,496.89 157.00,498.00C153.30,498.70 150.98,499.15 148.00,500.00C144.95,500.87 141.83,502.20 138.90,503.20C136.18,504.13 133.44,504.91 131.00,505.80C128.85,506.58 126.91,507.21 125.00,508.20C123.07,509.20 121.37,510.56 119.50,511.80C117.54,513.09 115.67,514.83 113.50,515.80C111.33,516.77 108.95,517.59 106.50,517.60C103.81,517.61 101.06,516.39 98.00,515.50C94.32,514.44 89.95,512.51 86.00,511.50C82.29,510.55 78.79,510.04 75.00,509.50C70.98,508.93 63.38,509.18 62.50,508.20C62.26,507.94 62.31,507.57 62.50,507.30Z" fill="none" stroke="#222" stroke-width="1.1" stroke-linejoin="round"/>
<path d="M62.50,511.43C62.90,510.81 64.44,510.17 66.20,509.57C69.92,508.31 78.33,507.09 84.40,506.09C90.43,505.10 96.99,504.36 102.50,503.59C107.14,502.95 110.75,502.88 115.30,501.80C120.76,500.51 127.59,498.18 132.90,495.84C137.61,493.77 141.78,491.36 145.70,488.80C149.36,486.40 152.83,483.66 155.77,481.05C158.33,478.78 160.58,476.01 162.50,474.19C163.86,472.90 164.76,471.67 166.09,471.02C167.34,470.42 168.50,470.18 170.19,470.26C172.98,470.39 177.41,472.28 181.22,473.40C185.34,474.60 189.75,476.16 194.05,477.26C198.30,478.35 202.52,479.22 206.88,479.96C211.34,480.72 216.04,481.31 220.53,481.74C224.86,482.16 232.09,481.14 233.34,482.56C233.90,483.19 233.83,484.41 233.18,485.16C231.57,487.04 222.71,487.61 217.10,488.55C211.04,489.58 204.33,490.17 198.07,490.99C191.97,491.79 186.37,492.40 180.00,493.42C172.78,494.58 162.88,496.34 157.00,497.71C153.28,498.58 150.98,499.24 148.00,500.26C144.95,501.30 141.83,502.69 138.90,503.92C136.12,505.09 133.32,506.12 130.83,507.46C128.50,508.70 126.40,510.02 124.38,511.60C122.33,513.21 120.58,515.26 118.64,517.04C116.69,518.82 114.90,521.05 112.71,522.29C110.62,523.48 108.27,524.47 105.88,524.50C103.26,524.53 100.55,523.09 97.61,522.04C94.10,520.79 90.10,518.63 86.29,517.30C82.57,516.01 78.92,514.98 75.04,514.15C70.99,513.28 63.27,513.25 62.46,512.26C62.25,512.01 62.32,511.71 62.50,511.43Z" fill="none" stroke="#ff2a2a" stroke-width="1.1" stroke-linejoin="round"/>
<path d="M62.50,514.62C62.98,513.81 64.42,513.10 66.20,512.32C69.90,510.71 78.31,508.70 84.40,507.32C90.41,505.96 96.99,505.04 102.50,504.05C107.13,503.23 110.75,503.02 115.30,501.80C120.76,500.34 127.62,497.98 132.90,495.41C137.64,493.10 141.82,490.31 145.70,487.41C149.34,484.69 152.71,481.67 155.60,478.62C158.24,475.83 160.49,472.38 162.50,469.94C164.01,468.10 165.00,466.18 166.55,465.18C167.89,464.32 169.21,463.85 171.02,463.90C173.91,463.97 178.34,466.37 182.17,467.69C186.26,469.09 190.60,470.79 194.86,472.06C199.06,473.32 203.24,474.40 207.55,475.31C211.93,476.23 216.54,476.98 220.93,477.53C225.14,478.06 232.09,477.03 233.36,478.59C234.04,479.41 233.84,481.04 232.98,482.05C231.13,484.25 222.67,485.33 217.10,486.56C211.10,487.88 204.39,488.58 198.14,489.58C192.03,490.56 186.39,491.31 180.00,492.51C172.77,493.87 162.86,495.82 157.00,497.44C153.27,498.47 150.98,499.33 148.00,500.50C144.95,501.70 141.83,503.15 138.90,504.59C136.06,505.99 133.20,507.28 130.67,509.00C128.18,510.68 125.93,512.63 123.80,514.76C121.64,516.93 119.84,519.62 117.83,521.92C115.89,524.14 114.19,526.82 111.97,528.34C109.96,529.71 107.64,530.88 105.30,530.92C102.75,530.96 100.08,529.32 97.25,528.12C93.89,526.70 90.23,524.30 86.56,522.70C82.84,521.09 79.05,519.58 75.08,518.48C71.01,517.35 63.41,517.31 62.42,516.04C62.09,515.62 62.23,515.08 62.50,514.62Z" fill="none" stroke="#3a3aff" stroke-width="1.1" stroke-linejoin="round"/>
<path d="M62.50,517.38C63.02,516.43 64.40,515.64 66.20,514.71C69.89,512.79 78.29,510.10 84.40,508.39C90.39,506.70 96.99,505.62 102.50,504.45C107.13,503.47 110.75,503.14 115.30,501.80C120.76,500.20 127.65,497.81 132.90,495.03C137.67,492.52 141.85,489.40 145.70,486.20C149.32,483.20 152.60,479.93 155.44,476.51C158.16,473.26 160.40,469.22 162.50,466.25C164.14,463.93 165.21,461.42 166.95,460.11C168.38,459.04 169.82,458.36 171.75,458.39C174.71,458.42 179.14,461.25 182.99,462.74C187.06,464.31 191.34,466.13 195.56,467.56C199.73,468.97 203.87,470.22 208.13,471.27C212.44,472.33 216.97,473.23 221.28,473.88C225.38,474.50 232.09,473.49 233.39,475.15C234.15,476.13 233.83,478.13 232.81,479.38C230.80,481.84 222.64,483.37 217.10,484.84C211.15,486.43 204.44,487.22 198.20,488.37C192.07,489.51 186.40,490.38 180.00,491.73C172.76,493.26 162.85,495.39 157.00,497.21C153.26,498.38 150.98,499.40 148.00,500.71C144.95,502.05 141.83,503.55 138.90,505.16C136.01,506.76 133.11,508.29 130.53,510.32C127.90,512.38 125.52,514.88 123.31,517.47C121.05,520.13 119.20,523.36 117.14,526.11C115.21,528.69 113.57,531.78 111.34,533.52C109.39,535.04 107.10,536.37 104.81,536.42C102.32,536.48 99.67,534.68 96.94,533.34C93.71,531.77 90.35,529.17 86.79,527.34C83.09,525.44 79.16,523.53 75.12,522.19C71.03,520.84 63.48,520.75 62.38,519.28C61.96,518.72 62.16,517.99 62.50,517.38Z" fill="none" stroke="#ff33ff" stroke-width="1.1" stroke-linejoin="round"/>
<path d="M62.50,521.84C63.05,520.74 64.38,519.76 66.20,518.57C69.87,516.16 78.25,512.37 84.40,510.11C90.35,507.92 96.98,506.57 102.50,505.09C107.13,503.86 110.75,503.33 115.30,501.80C120.76,499.96 127.69,497.51 132.90,494.43C137.73,491.57 141.91,487.92 145.70,484.26C149.29,480.79 152.40,477.10 155.20,473.11C158.01,469.11 160.26,464.10 162.50,460.30C164.33,457.20 165.56,453.74 167.59,451.93C169.17,450.53 170.81,449.48 172.92,449.49C176.00,449.49 180.43,452.98 184.31,454.74C188.35,456.58 192.54,458.61 196.70,460.28C200.79,461.94 204.89,463.47 209.08,464.75C213.27,466.03 217.67,467.16 221.85,467.98C225.78,468.75 232.05,467.76 233.42,469.59C234.40,470.89 233.87,473.73 232.56,475.46C230.33,478.39 222.60,480.50 217.10,482.33C211.22,484.28 204.51,485.21 198.28,486.60C192.15,487.96 186.42,489.00 180.00,490.58C172.75,492.36 162.84,494.75 157.00,496.88C153.24,498.24 150.98,499.51 148.00,501.01C144.95,502.55 141.83,504.15 138.90,506.01C135.94,507.89 132.97,509.79 130.33,512.26C127.51,514.89 124.93,518.17 122.58,521.46C120.19,524.83 118.24,528.85 116.13,532.26C114.19,535.38 112.67,539.06 110.41,541.15C108.54,542.86 106.31,544.46 104.08,544.52C101.68,544.59 99.07,542.54 96.48,541.01C93.44,539.22 90.51,536.30 87.12,534.15C83.45,531.82 79.32,529.34 75.17,527.65C71.06,525.98 63.47,525.68 62.33,524.05C61.87,523.38 62.13,522.57 62.50,521.84Z" fill="none" stroke="#2f9f2f" stroke-width="1.1" stroke-linejoin="round"/>
<path d="M62.50,525.26C63.11,523.90 64.36,522.92 66.20,521.52C69.86,518.75 78.21,514.11 84.40,511.43C90.32,508.86 96.98,507.29 102.50,505.59C107.13,504.16 110.75,503.48 115.30,501.80C120.76,499.79 127.72,497.28 132.90,493.96C137.77,490.85 141.95,486.78 145.70,482.76C149.27,478.94 152.25,474.91 155.01,470.50C157.88,465.93 160.15,460.16 162.50,455.73C164.46,452.03 165.83,447.85 168.09,445.65C169.78,444.00 171.58,442.66 173.82,442.66C176.99,442.65 181.42,446.63 185.33,448.61C189.34,450.64 193.45,452.83 197.57,454.70C201.61,456.54 205.67,458.28 209.81,459.75C213.91,461.20 218.21,462.51 222.28,463.46C226.08,464.34 232.16,463.48 233.45,465.33C234.41,466.70 233.69,469.59 232.30,471.49C230.00,474.66 222.57,477.59 217.10,479.78C211.31,482.09 204.59,483.19 198.37,484.80C192.22,486.40 186.44,487.61 180.00,489.42C172.74,491.45 162.82,494.11 157.00,496.53C153.22,498.11 150.98,499.62 148.00,501.32C144.95,503.06 141.83,504.76 138.90,506.87C135.86,509.05 132.84,511.33 130.12,514.23C127.11,517.44 124.33,521.51 121.85,525.50C119.31,529.58 117.27,534.41 115.10,538.48C113.16,542.14 111.76,546.42 109.47,548.86C107.68,550.77 105.50,552.64 103.35,552.71C101.04,552.79 98.45,550.49 96.02,548.78C93.16,546.76 90.69,543.50 87.47,541.04C83.85,538.27 79.49,535.22 75.22,533.18C71.08,531.20 63.65,530.90 62.28,528.87C61.57,527.82 62.00,526.39 62.50,525.26Z" fill="none" stroke="#3a3aa8" stroke-width="1.1" stroke-linejoin="round"/>
<path d="M62.50,527.17C63.18,525.53 64.35,524.68 66.20,523.18C69.86,520.20 78.18,515.09 84.40,512.16C90.30,509.39 96.98,507.70 102.50,505.86C107.12,504.32 110.75,503.56 115.30,501.80C120.76,499.69 127.73,497.15 132.90,493.71C137.80,490.45 141.97,486.15 145.70,481.93C149.26,477.90 152.16,473.69 154.91,469.04C157.80,464.15 160.08,457.96 162.50,453.18C164.54,449.14 165.99,444.56 168.36,442.14C170.12,440.36 172.01,438.85 174.32,438.84C177.54,438.83 181.98,443.08 185.89,445.18C189.89,447.33 193.97,449.61 198.05,451.58C202.07,453.53 206.10,455.39 210.21,456.95C214.26,458.50 218.51,459.92 222.53,460.93C226.25,461.87 232.46,461.28 233.47,462.95C234.13,464.04 233.24,465.95 232.04,467.53C229.74,470.57 222.55,474.68 217.10,477.23C211.40,479.90 204.66,481.16 198.45,483.01C192.30,484.84 186.46,486.22 180.00,488.25C172.73,490.54 162.79,493.48 157.00,496.19C153.19,497.98 150.99,499.73 148.00,501.63C144.95,503.57 141.83,505.38 138.90,507.72C135.79,510.20 132.72,512.86 129.92,516.20C126.73,519.99 123.73,524.84 121.11,529.53C118.44,534.33 116.29,539.96 114.08,544.71C112.12,548.90 110.83,553.77 108.53,556.57C106.81,558.66 104.70,560.82 102.61,560.90C100.39,560.99 97.83,558.44 95.56,556.54C92.87,554.30 90.86,550.70 87.81,547.93C84.26,544.72 79.66,541.10 75.27,538.70C71.11,536.42 63.92,536.26 62.23,533.69C61.08,531.94 61.75,528.97 62.50,527.17Z" fill="none" stroke="#a040ff" stroke-width="1.1" stroke-linejoin="round"/>
<path d="M62.50,530.90C63.16,529.20 64.33,528.13 66.20,526.40C69.85,523.02 78.14,516.99 84.40,513.60C90.26,510.43 96.97,508.49 102.50,506.40C107.12,504.65 110.75,503.72 115.30,501.80C120.76,499.49 127.77,496.88 132.90,493.20C137.85,489.66 142.02,484.91 145.70,480.30C149.24,475.88 151.99,471.30 154.70,466.20C157.64,460.67 159.96,453.67 162.50,448.20C164.68,443.51 166.29,438.15 168.90,435.30C170.78,433.24 172.85,431.40 175.30,431.40C178.62,431.40 183.07,436.16 187.00,438.50C190.96,440.86 194.96,443.32 199.00,445.50C202.97,447.65 206.95,449.74 211.00,451.50C214.96,453.22 219.09,454.85 223.00,456.00C226.58,457.06 232.28,456.38 233.50,458.30C234.49,459.87 233.43,463.02 231.90,465.30C229.47,468.93 222.54,473.04 217.10,475.80C211.45,478.67 204.71,480.03 198.50,482.00C192.34,483.96 186.47,485.44 180.00,487.60C172.72,490.03 162.78,493.13 157.00,496.00C153.18,497.90 150.99,499.79 148.00,501.80C144.95,503.85 141.83,505.74 138.90,508.20C135.75,510.85 132.65,513.73 129.80,517.30C126.52,521.42 123.39,526.71 120.70,531.80C117.94,537.00 115.73,543.08 113.50,548.20C111.54,552.70 110.30,557.90 108.00,560.90C106.32,563.09 104.25,565.42 102.20,565.50C100.03,565.59 97.49,562.90 95.30,560.90C92.71,558.53 90.97,554.74 88.00,551.80C84.51,548.34 79.76,544.40 75.30,541.80C71.13,539.36 63.78,538.90 62.20,536.40C61.22,534.84 61.86,532.55 62.50,530.90Z" fill="none" stroke="#9933b0" stroke-width="1.1" stroke-linejoin="round"/>
<path d="M58,537.3V507" stroke="#222" stroke-width="0.9"/>
<path d="M58,504.5l-1.6,4h3.2z" fill="#222"/>
<text x="52.6" y="508" font-size="8.5" text-anchor="middle" fill="#222">h</text>
<text x="52.6" y="541.5" font-size="8.5" text-anchor="middle" fill="#222">a</text>
<rect x="166.2" y="502.4" width="79.30000000000001" height="65.5" fill="#fff"/>
<path d="M166.2,567.9V502.4H245.5V567.9" fill="none" stroke="#8a8a8a" stroke-width="0.8"/>
<path d="M166.2,502.4V567.9H245.5" fill="none" stroke="#555" stroke-width="0.9"/>
<text x="163.70" y="568.95" font-size="3.2" text-anchor="middle" fill="#777">20</text>
<text x="163.70" y="558.05" font-size="3.2" text-anchor="middle" fill="#777">30</text>
<text x="163.70" y="547.15" font-size="3.2" text-anchor="middle" fill="#777">40</text>
<text x="163.70" y="536.25" font-size="3.2" text-anchor="middle" fill="#777">50</text>
<text x="163.70" y="525.35" font-size="3.2" text-anchor="middle" fill="#777">60</text>
<text x="163.70" y="514.45" font-size="3.2" text-anchor="middle" fill="#777">70</text>
<text x="163.70" y="503.55" font-size="3.2" text-anchor="middle" fill="#777">80</text>
<text x="165.95" y="572.30" font-size="3.2" text-anchor="middle" fill="#777">4</text>
<text x="176.85" y="572.30" font-size="3.2" text-anchor="middle" fill="#777">6</text>
<text x="187.75" y="572.30" font-size="3.2" text-anchor="middle" fill="#777">8</text>
<text x="198.65" y="572.30" font-size="3.2" text-anchor="middle" fill="#777">10</text>
<text x="209.55" y="572.30" font-size="3.2" text-anchor="middle" fill="#777">12</text>
<text x="220.45" y="572.30" font-size="3.2" text-anchor="middle" fill="#777">14</text>
<text x="231.35" y="572.30" font-size="3.2" text-anchor="middle" fill="#777">16</text>
<text x="242.25" y="572.30" font-size="3.2" text-anchor="middle" fill="#777">18</text>
<path d="M166.2,567.95h-1.3M166.2,557.05h-1.3M166.2,546.15h-1.3M166.2,535.25h-1.3M166.2,524.35h-1.3M166.2,513.45h-1.3M166.2,502.55h-1.3M165.95,567.9v1.3M176.85,567.9v1.3M187.75,567.9v1.3M198.65,567.9v1.3M209.55,567.9v1.3M220.45,567.9v1.3M231.35,567.9v1.3M242.25,567.9v1.3" stroke="#555" stroke-width="0.6"/>
<text x="205.40" y="579.50" font-size="5" text-anchor="middle" fill="#555">V<tspan font-size="3" dy="-1.5">1/2</tspan><tspan dy="1.5"> / mV s</tspan><tspan font-size="3" dy="-1.5">-1</tspan></text>
<text transform="translate(156.20,540.00) rotate(-90)" font-size="5.2" text-anchor="middle" fill="#555">Current /μA</text>
<path d="M171.4,562.2L236.9,506.8" stroke="#ff6060" stroke-width="0.8"/>
<path d="M170.30,561.40h2.2v2.2h-2.2zM181.40,551.50h2.2v2.2h-2.2zM189.60,544.30h2.2v2.2h-2.2zM196.60,537.40h2.2v2.2h-2.2zM208.50,526.30h2.2v2.2h-2.2zM218.60,517.90h2.2v2.2h-2.2zM227.20,512.00h2.2v2.2h-2.2zM235.20,506.70h2.2v2.2h-2.2z" fill="#000"/>
<path d="M353.50,539.00C351.72,537.63 352.45,521.65 353.20,515.00C353.75,510.15 353.89,505.26 356.20,502.60C358.23,500.27 361.70,500.15 365.30,499.00C370.28,497.41 377.01,495.81 383.50,494.50C390.83,493.02 401.18,492.68 407.10,490.80C410.96,489.57 413.51,488.87 416.20,486.30C419.86,482.81 422.60,475.60 425.30,469.90C428.05,464.08 430.29,457.45 432.50,451.70C434.48,446.55 436.00,440.45 438.00,437.00C439.27,434.82 440.53,432.54 442.00,432.20C443.23,431.92 444.93,432.69 446.00,434.00C447.97,436.39 448.03,443.53 449.30,448.30C450.59,453.16 451.43,458.20 453.70,462.90C456.16,467.99 459.40,474.42 463.90,477.60C468.24,480.67 473.70,481.27 480.00,482.00C488.57,483.00 502.82,482.35 510.90,480.90C516.34,479.92 521.72,474.71 524.20,476.50C527.34,478.77 526.49,494.90 524.20,499.00C522.92,501.30 520.74,501.62 518.20,502.70C514.49,504.27 509.33,505.52 503.60,506.40C495.70,507.61 483.50,507.65 475.00,508.00C468.17,508.28 462.10,507.99 456.50,508.50C451.80,508.93 446.91,508.65 443.60,510.50C440.72,512.11 439.12,514.84 437.20,518.00C434.66,522.18 432.77,528.37 430.70,534.00C428.45,540.14 426.86,547.96 424.30,553.50C422.22,558.01 419.58,564.42 417.20,565.10C415.80,565.50 414.19,563.96 413.00,563.00C411.82,562.05 411.13,560.93 410.10,559.40C408.55,557.11 407.39,553.04 405.00,550.30C402.27,547.15 398.53,543.82 394.10,542.00C388.85,539.84 380.84,540.03 375.00,539.50C370.09,539.05 365.00,538.98 361.40,538.80C359.03,538.68 356.94,538.36 355.50,538.50C354.65,538.58 354.02,539.40 353.50,539.00Z" fill="none" stroke="#b0b050" stroke-width="1.0" stroke-linejoin="round"/>
<path d="M352.80,534.80C349.73,531.59 350.77,513.42 353.30,507.00C354.97,502.76 358.12,500.08 361.40,498.00C364.68,495.92 368.51,495.40 373.00,494.50C378.94,493.31 387.52,493.10 394.10,492.30C399.92,491.59 405.61,491.15 410.50,490.00C414.61,489.04 418.29,488.83 421.60,486.30C425.89,483.02 429.81,476.25 432.50,469.90C435.58,462.60 436.13,451.41 438.00,444.50C439.32,439.63 440.21,435.13 442.00,432.20C443.24,430.17 444.88,427.95 446.40,427.80C447.79,427.67 449.49,428.98 450.70,430.70C452.96,433.92 453.66,442.31 455.10,448.30C456.59,454.51 455.82,462.16 459.50,467.30C463.59,473.01 472.11,477.59 480.00,480.00C488.94,482.73 502.83,482.42 510.90,481.20C516.35,480.37 521.71,474.74 524.20,476.50C527.37,478.75 527.82,494.68 524.20,499.50C520.71,504.16 511.39,504.15 503.60,505.50C493.85,507.19 478.69,507.08 470.00,507.50C464.49,507.77 460.94,507.61 456.50,508.00C452.14,508.38 446.93,508.04 443.60,509.80C440.75,511.31 439.10,513.82 437.20,516.90C434.60,521.12 432.79,527.80 430.70,533.60C428.48,539.77 426.72,547.38 424.30,552.90C422.35,557.36 420.21,563.98 417.90,564.50C416.35,564.85 414.50,562.59 413.00,561.00C411.12,559.00 410.33,555.83 408.00,553.00C404.70,548.99 399.34,542.83 394.10,540.00C389.17,537.33 383.31,536.84 377.70,536.00C371.95,535.14 364.60,535.19 360.00,535.00C357.07,534.88 354.36,536.44 352.80,534.80Z" fill="none" stroke="#a04a4a" stroke-width="0.95" stroke-linejoin="round"/>
<path d="M352.80,531.23C350.03,528.30 350.96,512.90 353.30,507.21C354.94,503.23 358.14,500.65 361.40,498.68C364.70,496.69 368.52,496.24 373.00,495.39C378.95,494.26 387.51,494.06 394.10,493.31C399.92,492.65 405.62,492.26 410.50,491.19C414.57,490.29 418.21,490.17 421.47,487.75C425.62,484.66 429.36,478.23 431.95,472.23C434.90,465.40 435.48,454.98 437.29,448.53C438.58,443.96 439.46,439.75 441.21,437.02C442.44,435.11 444.05,433.04 445.55,432.90C446.92,432.78 448.61,434.03 449.81,435.69C452.00,438.72 452.75,446.46 454.14,452.13C455.61,458.16 454.65,465.85 458.36,470.85C462.58,476.55 471.83,480.84 480.00,483.14C489.11,485.71 502.81,485.24 510.90,484.13C516.33,483.39 521.79,478.19 524.20,479.95C527.06,482.05 527.42,495.37 524.20,499.62C520.84,504.04 511.38,504.06 503.60,505.35C493.84,506.98 478.69,506.89 470.00,507.31C464.49,507.57 460.94,507.42 456.50,507.81C452.14,508.19 446.94,507.88 443.60,509.59C440.78,511.05 439.10,513.40 437.20,516.37C434.60,520.42 432.76,526.89 430.70,532.46C428.52,538.35 426.85,545.58 424.52,550.84C422.63,555.09 420.56,561.37 418.32,561.88C416.79,562.23 414.99,560.05 413.50,558.51C411.63,556.57 410.70,553.55 408.43,550.72C405.19,546.67 400.36,540.20 395.19,537.15C390.18,534.19 383.87,533.35 378.02,532.40C372.14,531.45 364.65,531.67 360.00,531.48C357.06,531.35 354.32,532.84 352.80,531.23Z" fill="none" stroke="#a050c0" stroke-width="0.95" stroke-linejoin="round"/>
<path d="M352.80,528.07C350.31,525.41 351.13,512.36 353.30,507.40C354.91,503.73 358.18,501.37 361.40,499.56C364.72,497.69 368.52,497.31 373.00,496.53C378.95,495.49 387.51,495.30 394.10,494.62C399.91,494.02 405.64,493.69 410.50,492.72C414.51,491.92 418.12,491.91 421.30,489.62C425.26,486.78 428.77,480.78 431.25,475.24C434.03,469.01 434.63,459.57 436.38,453.71C437.63,449.56 438.51,445.72 440.19,443.24C441.40,441.47 442.98,439.61 444.44,439.49C445.81,439.37 447.48,440.54 448.67,442.12C450.77,444.91 451.53,451.89 452.90,457.08C454.37,462.66 453.49,469.91 457.17,474.53C461.57,480.03 471.56,483.82 480.00,485.93C489.29,488.25 502.80,487.74 510.90,486.73C516.32,486.06 521.88,481.25 524.20,483.02C526.76,484.96 527.06,496.05 524.20,499.76C520.97,503.95 511.37,503.95 503.60,505.17C493.83,506.71 478.69,506.66 470.00,507.07C464.49,507.33 460.94,507.19 456.50,507.58C452.14,507.96 446.95,507.68 443.60,509.34C440.81,510.72 439.11,512.90 437.20,515.72C434.61,519.55 432.73,525.77 430.70,531.07C428.58,536.62 427.02,543.40 424.78,548.33C422.97,552.32 420.99,558.19 418.83,558.68C417.34,559.03 415.59,556.95 414.11,555.47C412.24,553.61 411.19,550.72 408.96,547.93C405.77,543.96 401.36,537.46 396.26,534.34C391.15,531.22 384.38,530.21 378.31,529.22C372.29,528.23 364.71,528.55 360.00,528.35C357.05,528.22 354.27,529.64 352.80,528.07Z" fill="none" stroke="#a050ff" stroke-width="0.95" stroke-linejoin="round"/>
<path d="M352.80,524.81C350.61,522.45 351.32,511.81 353.30,507.59C354.87,504.25 358.22,502.09 361.40,500.44C364.74,498.71 368.53,498.40 373.00,497.69C378.96,496.74 387.51,496.55 394.10,495.94C399.91,495.40 405.65,495.13 410.50,494.26C414.45,493.55 418.02,493.65 421.12,491.51C424.90,488.91 428.18,483.35 430.53,478.27C433.14,472.65 433.77,464.21 435.47,458.95C436.68,455.20 437.55,451.74 439.17,449.51C440.35,447.90 441.90,446.23 443.33,446.13C444.69,446.03 446.33,447.11 447.51,448.61C449.51,451.16 450.29,457.36 451.64,462.07C453.12,467.21 452.32,474.03 455.97,478.28C460.53,483.60 471.28,486.89 480.00,488.81C489.46,490.89 502.78,490.31 510.90,489.42C516.30,488.82 521.98,484.43 524.20,486.18C526.43,487.93 526.67,496.79 524.20,499.94C521.14,503.84 511.36,503.81 503.60,504.95C493.82,506.40 478.69,506.38 470.00,506.78C464.49,507.04 460.94,506.92 456.50,507.30C452.14,507.68 446.97,507.45 443.60,509.04C440.84,510.33 439.11,512.29 437.20,514.94C434.62,518.51 432.69,524.42 430.70,529.39C428.65,534.52 427.23,540.76 425.11,545.29C423.39,548.97 421.50,554.35 419.45,554.82C418.00,555.15 416.32,553.20 414.85,551.80C412.99,550.02 411.80,547.27 409.59,544.56C406.46,540.72 402.46,534.36 397.44,531.26C392.21,528.04 384.93,526.94 378.61,525.93C372.44,524.94 364.76,525.33 360.00,525.12C357.04,525.00 354.21,526.33 352.80,524.81Z" fill="none" stroke="#4a4aaa" stroke-width="0.95" stroke-linejoin="round"/>
<path d="M352.80,521.75C350.92,519.70 351.52,511.24 353.30,507.77C354.82,504.81 358.27,502.95 361.40,501.51C364.77,499.96 368.54,499.71 373.00,499.08C378.97,498.24 387.51,498.05 394.10,497.52C399.91,497.06 405.67,496.86 410.50,496.12C414.39,495.52 417.90,495.76 420.92,493.79C424.46,491.48 427.46,486.44 429.68,481.93C432.07,477.03 432.74,469.79 434.36,465.26C435.52,462.00 436.39,458.99 437.93,457.07C439.09,455.63 440.61,454.20 441.99,454.12C443.34,454.04 444.95,455.03 446.12,456.42C448.00,458.67 448.78,463.99 450.14,468.07C451.63,472.56 451.14,478.57 454.69,482.26C459.45,487.22 470.99,489.85 480.00,491.51C489.65,493.28 502.77,492.72 510.90,491.93C516.29,491.41 522.10,487.44 524.20,489.14C526.09,490.68 526.28,497.56 524.20,500.15C521.32,503.73 511.35,503.64 503.60,504.69C493.81,506.01 478.69,506.03 470.00,506.43C464.49,506.68 460.94,506.58 456.50,506.96C452.14,507.34 446.99,507.18 443.60,508.67C440.89,509.85 439.11,511.54 437.20,513.98C434.64,517.25 432.64,522.77 430.70,527.35C428.74,531.97 427.47,537.54 425.50,541.59C423.89,544.89 422.13,549.67 420.20,550.11C418.80,550.44 417.20,548.63 415.75,547.33C413.89,545.65 412.57,543.03 410.37,540.46C407.28,536.87 403.59,530.95 398.68,528.03C393.30,524.83 385.46,523.82 378.89,522.84C372.57,521.90 364.81,522.31 360.00,522.10C357.03,521.97 354.15,523.21 352.80,521.75Z" fill="none" stroke="#3a9a3a" stroke-width="0.95" stroke-linejoin="round"/>
<path d="M352.80,518.99C351.23,517.25 351.73,510.71 353.30,507.94C354.77,505.34 358.31,503.78 361.40,502.53C364.80,501.16 368.54,500.97 373.00,500.42C378.97,499.68 387.51,499.49 394.10,499.05C399.91,498.66 405.69,498.53 410.50,497.91C414.32,497.42 417.78,497.78 420.72,495.98C424.03,493.94 426.77,489.41 428.85,485.44C431.04,481.25 431.76,475.16 433.30,471.32C434.42,468.53 435.29,465.96 436.75,464.33C437.88,463.07 439.36,461.87 440.70,461.81C442.04,461.75 443.62,462.65 444.78,463.94C446.55,465.90 447.31,470.38 448.69,473.85C450.20,477.69 450.07,482.83 453.49,485.97C458.47,490.54 470.72,492.53 480.00,493.94C489.80,495.42 502.76,494.89 510.90,494.20C516.28,493.74 522.23,490.17 524.20,491.81C525.77,493.13 525.92,498.35 524.20,500.43C521.52,503.67 511.34,503.42 503.60,504.34C493.80,505.50 478.69,505.58 470.00,505.97C464.49,506.21 460.94,506.14 456.50,506.52C452.14,506.88 447.03,506.84 443.60,508.18C440.94,509.22 439.12,510.56 437.20,512.72C434.67,515.57 432.58,520.60 430.70,524.64C428.87,528.60 427.80,533.29 426.02,536.71C424.56,539.50 422.96,543.49 421.19,543.90C419.87,544.20 418.36,542.59 416.94,541.42C415.09,539.88 413.64,537.37 411.39,535.04C408.34,531.89 404.81,526.96 400.04,524.48C394.43,521.57 385.99,520.90 379.14,520.06C372.65,519.27 364.85,519.59 360.00,519.38C357.02,519.24 354.07,520.39 352.80,518.99Z" fill="none" stroke="#ff4aff" stroke-width="0.95" stroke-linejoin="round"/>
<path d="M352.80,515.83C351.62,514.49 352.04,510.13 353.30,508.12C354.68,505.93 358.35,504.62 361.40,503.56C364.83,502.37 368.55,502.22 373.00,501.75C378.98,501.12 387.51,500.93 394.10,500.57C399.91,500.25 405.71,500.19 410.50,499.70C414.26,499.31 417.67,499.79 420.52,498.17C423.60,496.40 426.08,492.38 428.03,488.95C430.01,485.46 430.78,480.53 432.24,477.38C433.31,475.07 434.19,472.93 435.56,471.59C436.67,470.51 438.11,469.53 439.42,469.50C440.74,469.47 442.29,470.27 443.45,471.45C445.09,473.12 445.87,476.75 447.24,479.62C448.77,482.87 448.93,487.27 452.22,489.93C457.41,494.14 470.42,495.56 480.00,496.73C489.96,497.94 502.76,497.38 510.90,496.80C516.27,496.42 522.44,493.35 524.20,494.88C525.36,495.88 525.46,499.24 524.20,500.72C521.82,503.50 511.33,503.20 503.60,503.98C493.79,504.98 478.69,505.12 470.00,505.49C464.49,505.73 460.94,505.68 456.50,506.05C452.14,506.42 447.06,506.50 443.60,507.67C440.99,508.56 439.14,509.54 437.20,511.43C434.71,513.86 432.51,518.37 430.70,521.87C429.01,525.12 428.13,528.91 426.55,531.68C425.24,533.97 423.80,537.15 422.22,537.50C420.96,537.79 419.55,536.38 418.17,535.34C416.32,533.95 414.73,531.55 412.44,529.47C409.44,526.74 406.11,522.73 401.50,520.65C395.68,518.02 386.57,517.60 379.43,516.88C372.77,516.20 364.90,516.47 360.00,516.25C357.02,516.11 353.94,517.12 352.80,515.83Z" fill="none" stroke="#4a4aff" stroke-width="0.95" stroke-linejoin="round"/>
<path d="M352.80,513.17C352.00,512.22 352.35,509.59 353.30,508.28C354.58,506.52 358.39,505.56 361.40,504.73C364.86,503.78 368.55,503.66 373.00,503.28C378.98,502.78 387.51,502.58 394.10,502.32C399.91,502.08 405.74,502.08 410.50,501.74C414.19,501.47 417.54,502.09 420.29,500.67C423.09,499.21 425.28,495.76 427.08,492.97C428.82,490.29 429.66,486.67 431.02,484.32C432.05,482.54 432.94,480.92 434.20,479.90C435.29,479.02 436.68,478.29 437.94,478.29C439.25,478.30 440.76,479.01 441.92,480.04C443.41,481.37 444.19,484.09 445.58,486.23C447.15,488.67 447.84,491.88 450.95,493.86C456.48,497.38 470.13,498.20 480.00,499.07C490.10,499.95 502.75,499.46 510.90,498.98C516.26,498.67 522.68,496.10 524.20,497.45C524.99,498.15 525.05,500.12 524.20,501.07C522.18,503.35 511.32,502.92 503.60,503.54C493.78,504.33 478.69,504.55 470.00,504.91C464.49,505.14 460.94,505.13 456.50,505.49C452.14,505.85 447.10,506.10 443.60,507.06C441.04,507.75 439.16,508.30 437.20,509.84C434.76,511.77 432.43,515.66 430.70,518.47C429.22,520.87 428.54,523.57 427.20,525.54C426.08,527.20 424.83,529.41 423.47,529.69C422.29,529.93 421.00,528.79 419.66,527.92C417.82,526.71 416.10,524.35 413.72,522.66C410.77,520.56 407.46,518.06 403.03,516.64C396.90,514.69 387.13,514.70 379.67,514.20C372.84,513.74 364.94,513.85 360.00,513.62C357.01,513.49 353.77,514.32 352.80,513.17Z" fill="none" stroke="#ff4a4a" stroke-width="0.95" stroke-linejoin="round"/>
<path d="M352.80,509.50C352.65,509.24 352.92,508.82 353.30,508.50C354.36,507.62 358.43,506.74 361.40,506.20C364.89,505.56 368.56,505.47 373.00,505.20C378.99,504.84 387.51,504.65 394.10,504.50C399.91,504.37 405.78,504.45 410.50,504.30C414.10,504.18 417.38,504.95 420.00,503.80C422.44,502.72 424.24,499.93 425.90,498.00C427.33,496.33 428.28,494.36 429.50,493.00C430.49,491.90 431.37,490.92 432.50,490.30C433.58,489.71 434.89,489.24 436.10,489.30C437.38,489.36 438.82,490.01 440.00,490.80C441.31,491.68 442.13,493.26 443.50,494.50C445.14,495.99 446.36,497.82 449.30,499.00C455.32,501.43 469.74,501.80 480.00,502.30C490.27,502.80 502.74,502.35 510.90,502.00C516.26,501.77 523.48,500.33 524.20,501.00C524.34,501.13 524.34,501.35 524.20,501.50C523.28,502.49 511.31,502.58 503.60,503.00C493.77,503.53 478.69,503.85 470.00,504.20C464.49,504.42 460.94,504.44 456.50,504.80C452.14,505.15 447.14,505.66 443.60,506.30C441.08,506.76 439.20,506.78 437.20,507.90C434.85,509.22 432.34,512.40 430.70,514.30C429.54,515.65 429.02,517.00 428.00,518.00C427.09,518.89 426.08,519.96 425.00,520.10C423.91,520.24 422.78,519.49 421.50,518.80C419.67,517.82 417.75,515.47 415.30,514.30C412.40,512.91 409.23,512.15 405.00,511.50C398.53,510.50 387.87,510.76 380.00,510.50C372.96,510.27 365.00,510.24 360.00,510.00C357.00,509.86 353.17,510.15 352.80,509.50Z" fill="none" stroke="#333" stroke-width="0.95" stroke-linejoin="round"/>
<path d="M500.7,488.2V498.4" stroke="#2a9a2a" stroke-width="1.2"/>
<path d="M348,539V501" stroke="#333" stroke-width="0.8"/>
<path d="M348,498.3l-1.5,4h3z" fill="#222"/>
<text x="342.3" y="505.7" font-size="8.5" text-anchor="middle" fill="#333">j</text>
<text x="342.3" y="541.5" font-size="8.5" text-anchor="middle" fill="#222">a</text>
<rect x="472.8" y="512.4" width="64.59999999999997" height="55.39999999999998" fill="#fff"/>
<path d="M472.8,567.8V512.4H537.4V567.8" fill="none" stroke="#8a8a8a" stroke-width="0.8"/>
<path d="M472.8,512.4V567.8H537.4" fill="none" stroke="#555" stroke-width="0.9"/>
<text x="470.30" y="562.50" font-size="3" text-anchor="middle" fill="#777">0</text>
<text x="470.30" y="552.70" font-size="3" text-anchor="middle" fill="#777">2</text>
<text x="470.30" y="542.90" font-size="3" text-anchor="middle" fill="#777">4</text>
<text x="470.30" y="533.10" font-size="3" text-anchor="middle" fill="#777">6</text>
<text x="470.30" y="523.30" font-size="3" text-anchor="middle" fill="#777">8</text>
<text x="470.30" y="513.50" font-size="3" text-anchor="middle" fill="#777">10</text>
<path d="M472.8,561.50h-1.3M472.8,551.70h-1.3M472.8,541.90h-1.3M472.8,532.10h-1.3M472.8,522.30h-1.3M472.8,512.50h-1.3M476.00,567.8v1.3M483.50,567.8v1.3M491.00,567.8v1.3M498.50,567.8v1.3M506.00,567.8v1.3M513.50,567.8v1.3M521.00,567.8v1.3M528.50,567.8v1.3M536.00,567.8v1.3" stroke="#555" stroke-width="0.6"/>
<path d="M472.8,568.0999999999999H537.4" stroke="#999" stroke-width="1.4"/>
<text x="504.40" y="581.00" font-size="8.2" text-anchor="middle" fill="#333">V<tspan font-size="4.6" dy="-3">1/2</tspan><tspan dy="3"> / mV s</tspan><tspan font-size="4.6" dy="-3">-1</tspan></text>
<text transform="translate(461.60,543.50) rotate(-90)" font-size="8.1" text-anchor="middle" fill="#333">Current / μA</text>
<path d="M477.2,557.8L528.8,517.8" stroke="#ff6060" stroke-width="0.9"/>
<path d="M476.33,556.95h1.8v1.8h-1.8zM486.26,549.69h1.8v1.8h-1.8zM494.46,543.39h1.8v1.8h-1.8zM500.19,538.81h1.8v1.8h-1.8zM505.92,534.04h1.8v1.8h-1.8zM511.26,529.65h1.8v1.8h-1.8zM516.04,525.26h1.8v1.8h-1.8zM520.24,521.25h1.8v1.8h-1.8zM524.06,519.72h1.8v1.8h-1.8zM527.87,516.85h1.8v1.8h-1.8z" fill="#000"/>
</svg></body></html>
